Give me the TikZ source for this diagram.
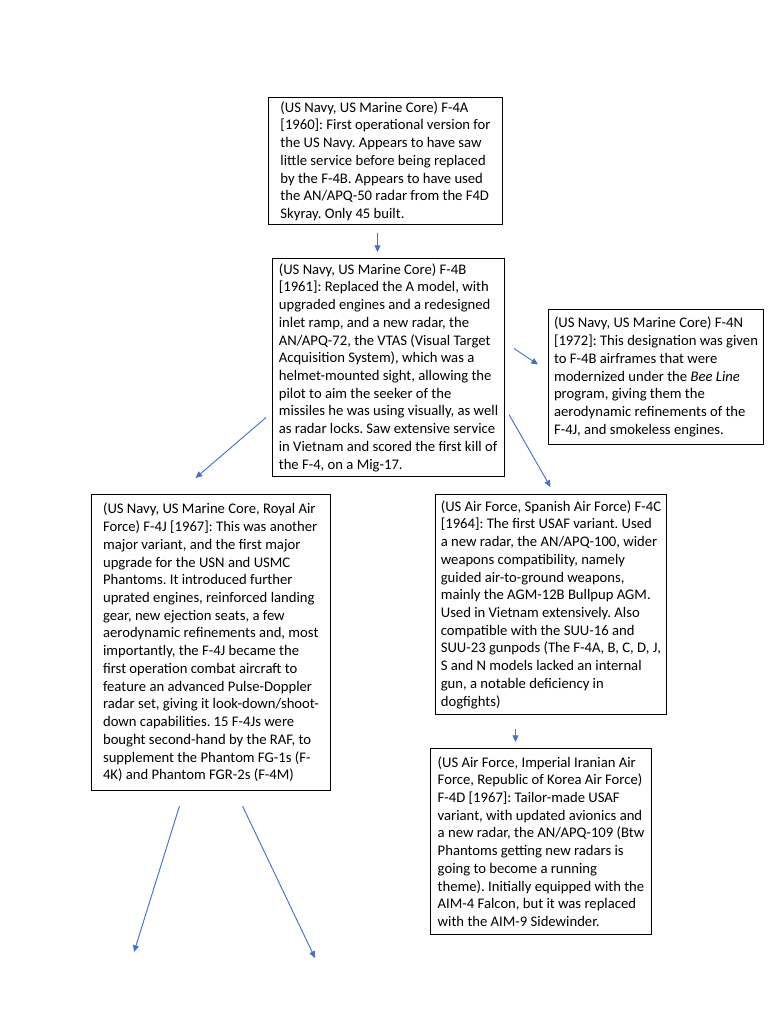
\documentclass[tikz,border=0pt]{standalone}
\usepackage{fontspec}
\setmainfont{Carlito}
\usetikzlibrary{arrows.meta}
\definecolor{linkblue}{RGB}{68,114,196}
\begin{document}
\frenchspacing
\begin{tikzpicture}[x=0.75pt,y=-0.75pt,
	variant/.style={draw=black,line width=0.75pt,anchor=north west,align=left,inner xsep=2pt,inner ysep=3pt,font=\fontsize{11pt}{13.3pt}\selectfont},
	link/.style={draw=linkblue,line width=0.7pt,-{Triangle[length=5pt,width=4.5pt]}}]
	\useasboundingbox[fill=white] (0,0) rectangle (768,1024);
	
	\node[variant,minimum width=175.5pt,minimum height=95.25pt] (f4a) at (268,97) {(US Navy, US Marine Core) F-4A\\ {[1960]}: First operational version for\\ the US Navy. Appears to have saw\\ little service before being replaced\\ by the F-4B. Appears to have used\\ the AN/APQ-50 radar from the F4D\\ Skyray. Only 45 built.};
	\node[variant,minimum width=174pt,minimum height=163.5pt] (f4b) at (272,258) {(US Navy, US Marine Core) F-4B\\ {[1961]}: Replaced the A model, with\\ upgraded engines and a redesigned\\ inlet ramp, and a new radar, the\\ AN/APQ-72, the VTAS (Visual Target\\ Acquisition System), which was a\\ helmet-mounted sight, allowing the\\ pilot to aim the seeker of the\\ missiles he was using visually, as well\\ as radar locks. Saw extensive service\\ in Vietnam and scored the first kill of\\ the F-4, on a Mig-17.};
	\node[variant,minimum width=161.25pt,minimum height=101.25pt] (f4n) at (548,309) {(US Navy, US Marine Core) F-4N\\ {[1972]}: This designation was given\\ to F-4B airframes that were\\ modernized under the \textit{Bee Line}\\ program, giving them the\\ aerodynamic refinements of the\\ F-4J, and smokeless engines.};
	\node[variant,minimum width=179.25pt,minimum height=222pt] (f4j) at (91,494) {(US Navy, US Marine Core, Royal Air\\ Force) F-4J [1967]: This was another\\ major variant, and the first major\\ upgrade for the USN and USMC\\ Phantoms. It introduced further\\ uprated engines, reinforced landing\\ gear, new ejection seats, a few\\ aerodynamic refinements and, most\\ importantly, the F-4J became the\\ first operation combat aircraft to\\ feature an advanced Pulse-Doppler\\ radar set, giving it look-down/shoot-\\ down capabilities. 15 F-4Js were\\ bought second-hand by the RAF, to\\ supplement the Phantom FG-1s (F-\\ 4K) and Phantom FGR-2s (F-4M)};
	\node[variant,minimum width=173.25pt,minimum height=165pt] (f4c) at (435,494) {(US Air Force, Spanish Air Force) F-4C\\ {[1964]}: The first USAF variant. Used\\ a new radar, the AN/APQ-100, wider\\ weapons compatibility, namely\\ guided air-to-ground weapons,\\ mainly the AGM-12B Bullpup AGM.\\ Used in Vietnam extensively. Also\\ compatible with the SUU-16 and\\ SUU-23 gunpods (The F-4A, B, C, D, J,\\ S and N models lacked an internal\\ gun, a notable deficiency in\\ dogfights)};
	\node[variant,minimum width=165.75pt,minimum height=139.5pt] (f4d) at (430,748) {(US Air Force, Imperial Iranian Air\\ Force, Republic of Korea Air Force)\\ F-4D [1967]: Tailor-made USAF\\ variant, with updated avionics and\\ a new radar, the AN/APQ-109 (Btw\\ Phantoms getting new radars is\\ going to become a running\\ theme). Initially equipped with the\\ AIM-4 Falcon, but it was replaced\\ with the AIM-9 Sidewinder.};
	
	\coordinate (next1) at (134,952);
	\coordinate (next2) at (315,958);
	
	\draw[link] ([shift={(-8,8)}]f4a.south) -- ([shift={(-11,-6)}]f4b.north);
	\draw[link] ([shift={(9,-19)}]f4b.east) -- ([shift={(-10,-12.5)}]f4n.west);
	\draw[link] ([shift={(-6,50)}]f4b.west) -- ([shift={(-15.5,-16)}]f4j.north);
	\draw[link] ([shift={(4,47)}]f4b.east) -- ([shift={(-0.5,-7)}]f4c.north);
	\draw[link] ([shift={(-35.5,14)}]f4c.south) -- ([shift={(-25.5,-6)}]f4d.north);
	\draw[link] ([shift={(-31.5,15)}]f4j.south) -- (next1);
	\draw[link] ([shift={(31.5,15)}]f4j.south) -- (next2);
\end{tikzpicture}
\end{document}
